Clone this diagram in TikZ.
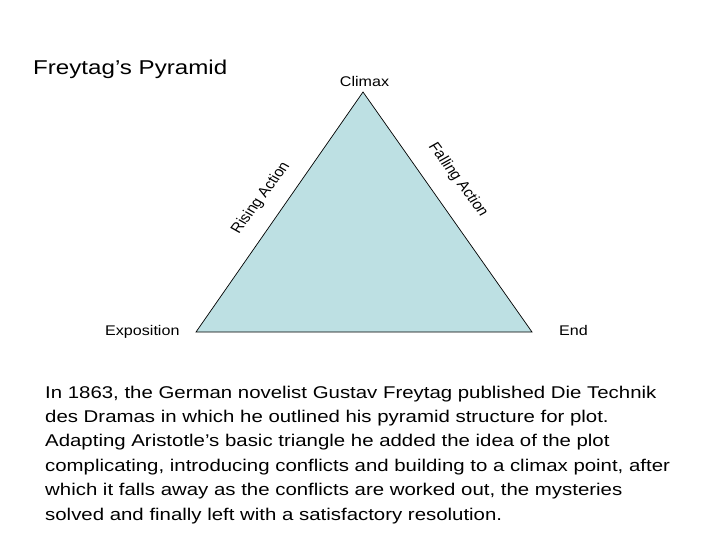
\documentclass[tikz,border=0pt]{standalone}
\usepackage{fontspec}
\setmainfont{Liberation Sans}
\definecolor{pyrfill}{RGB}{189,224,227}
\begin{document}
\begin{tikzpicture}[x=1pt,y=-1pt,
  lab/.style={inner sep=0pt, font=\fontsize{14}{14}\selectfont},
  body/.style={inner sep=0pt, anchor=base west, font=\fontsize{17}{17}\selectfont},
  slant/.style={inner sep=0pt, font=\fontsize{14}{14}\selectfont, xscale=1.15, rotate=#1, transform shape}]
\useasboundingbox (0,0) rectangle (728,546);
\fill[white] (0,0) rectangle (728,546);
\coordinate (apex) at (363,92);
\coordinate (bl) at (196,332);
\coordinate (br) at (532,332);
\filldraw[fill=pyrfill, draw=black, line width=0.7pt, line join=miter] (apex) -- (bl) -- (br) -- cycle;
\node[inner sep=0pt, anchor=base west, font=\fontsize{20}{20}\selectfont] (title) at (33,74) {\resizebox{194pt}{\height}{Freytag’s Pyramid}};
\node[lab, anchor=base] (climax) at (364.5,86) {\scalebox{1.15}[1]{Climax}};
\node[lab, anchor=base west] (expo) at (105,335.3) {\scalebox{1.15}[1]{Exposition}};
\node[lab, anchor=base west] (end) at (559,335.3) {\scalebox{1.15}[1]{End}};
\coordinate (rpos) at (261,198);
\coordinate (fpos) at (458,180);
\node[slant=57] (rising) at (rpos) {Rising Action};
\node[slant=-57] (falling) at (fpos) {Falling Action};
\node[body] (l1) at (45,398) {\scalebox{1.2}[1]{In 1863, the German novelist Gustav Freytag published Die Technik}};
\node[body] (l2) at (45,422.4) {\scalebox{1.2}[1]{des Dramas in which he outlined his pyramid structure for plot.}};
\node[body] (l3) at (45,446.8) {\scalebox{1.2}[1]{Adapting Aristotle’s basic triangle he added the idea of the plot}};
\node[body] (l4) at (45,471.2) {\scalebox{1.2}[1]{complicating, introducing conflicts and building to a climax point, after}};
\node[body] (l5) at (45,495.6) {\scalebox{1.2}[1]{which it falls away as the conflicts are worked out, the mysteries}};
\node[body] (l6) at (45,520) {\scalebox{1.2}[1]{solved and finally left with a satisfactory resolution.}};
\end{tikzpicture}
\end{document}
